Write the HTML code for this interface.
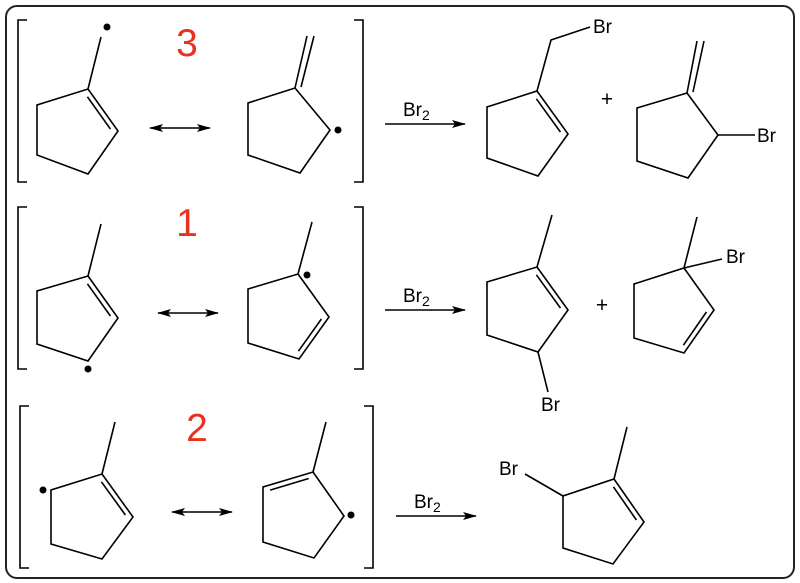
<!DOCTYPE html>
<html><head><meta charset="utf-8"><style>
html,body{margin:0;padding:0;background:#fff}
svg{display:block}
text{font-family:"Liberation Sans",Arial,sans-serif}
</style></head><body>
<svg width="800" height="583" viewBox="0 0 800 583" xmlns="http://www.w3.org/2000/svg">
<defs>
<marker id="ah" markerWidth="14" markerHeight="8" refX="13" refY="4" orient="auto" markerUnits="userSpaceOnUse"><path d="M0,0 L14,4 L0,8 L3,4 Z" fill="#000"/></marker>
<marker id="ahs" markerWidth="14" markerHeight="8" refX="1" refY="4" orient="auto" markerUnits="userSpaceOnUse"><path d="M14,0 L0,4 L14,8 L11,4 Z" fill="#000"/></marker>
</defs>
<rect x="6" y="6" width="788" height="572" rx="11" fill="#fff" stroke="#222" stroke-width="2"/>
<g fill="none" stroke="#000" stroke-width="1.6" stroke-linejoin="miter">
<path d="M27,20 H18 V182 H27"/><path d="M354,20 H363 V182 H354"/>
<path d="M27,207 H18 V369 H27"/><path d="M354,207 H363 V369 H354"/>
<path d="M29,406 H20 V568 H29"/><path d="M364,406 H373 V568 H364"/>

<path d="M88,89 L118,131 L88,174 L37,155 L37,105 Z M88,89 L101,37"/>
<path d="M87.4,96.8 L110.4,129"/>
<path d="M295,88 L330,130 L300,173 L248,155 L248,103 Z M295,88 L307,36 M301,87 L314,36"/>
<path d="M537,91 L568,134 L538,176 L487,158 L487,107 Z M537,91 L551,40 L590,27"/>
<path d="M536.4,98.8 L560.4,132"/>
<path d="M687,93 L718,135 L688,178 L637,161 L637,108 Z M718,135 L755,135 M687,93 L697,41 M693,92 L704,41"/>

<path d="M88,276 L118,318 L88,361 L37,344 L37,291 Z M88,276 L101,224"/>
<path d="M87.4,283.8 L110.4,316"/>
<path d="M298,274 L329,317 L299,359 L248,343 L248,289 Z M298,274 L312,222"/>
<path d="M321.4,319 L298.4,351.2"/>
<path d="M537,267 L568,310 L538,352 L487,335 L487,282 Z M537,267 L552,215 M538,352 L548,392"/>
<path d="M536.4,274.8 L560.4,308"/>
<path d="M684,268 L714,310 L684,353 L634,338 L634,284 Z M684,268 L697,217 M684,268 L722,259"/>
<path d="M706.4,312 L683.4,345.2"/>

<path d="M102,474 L133,517 L102,559 L51,544 L51,490 Z M102,474 L115,422"/>
<path d="M101.4,481.8 L125.4,515"/>
<path d="M313,472 L344,516 L314,558 L263,542 L263,487 Z M313,472 L326,422"/>
<path d="M270.1,490.1 L308.7,478.5"/>
<path d="M614,479 L644,522 L613,564 L563,548 L563,496 Z M614,479 L627,427 M563,496 L525,474"/>
<path d="M613.4,486.8 L636.4,520"/>

<line x1="385" y1="124" x2="465" y2="124" marker-end="url(#ah)"/>
<line x1="385" y1="310" x2="465" y2="310" marker-end="url(#ah)"/>
<line x1="396" y1="516" x2="476" y2="516" marker-end="url(#ah)"/>
<line x1="150" y1="128" x2="210" y2="128" marker-start="url(#ahs)" marker-end="url(#ah)"/>
<line x1="158" y1="313" x2="218" y2="313" marker-start="url(#ahs)" marker-end="url(#ah)"/>
<line x1="172" y1="512" x2="232" y2="512" marker-start="url(#ahs)" marker-end="url(#ah)"/>
</g>
<g fill="#000">
<circle cx="107" cy="27" r="3.5"/><circle cx="338" cy="130" r="3.5"/>
<circle cx="88" cy="369" r="3.5"/><circle cx="307" cy="275" r="3.5"/>
<circle cx="43" cy="490" r="3.5"/><circle cx="351" cy="515" r="3.5"/>
</g>
<g fill="#e8321e" font-size="39" text-anchor="middle">
<text x="187" y="56">3</text>
<text x="187" y="236">1</text>
<text x="197" y="441">2</text>
</g>
<g font-size="19" fill="#000">
<text x="403" y="116">Br<tspan font-size="14" dy="4">2</tspan></text>
<text x="403" y="302">Br<tspan font-size="14" dy="4">2</tspan></text>
<text x="414" y="508">Br<tspan font-size="14" dy="4">2</tspan></text>
<text x="593" y="33">Br</text>
<text x="757" y="142">Br</text>
<text x="541" y="411">Br</text>
<text x="726" y="263">Br</text>
<text x="499" y="475">Br</text>
<text x="607" y="106" text-anchor="middle" font-size="21">+</text>
<text x="602" y="312" text-anchor="middle" font-size="21">+</text>
</g>
</svg>
</body></html>
